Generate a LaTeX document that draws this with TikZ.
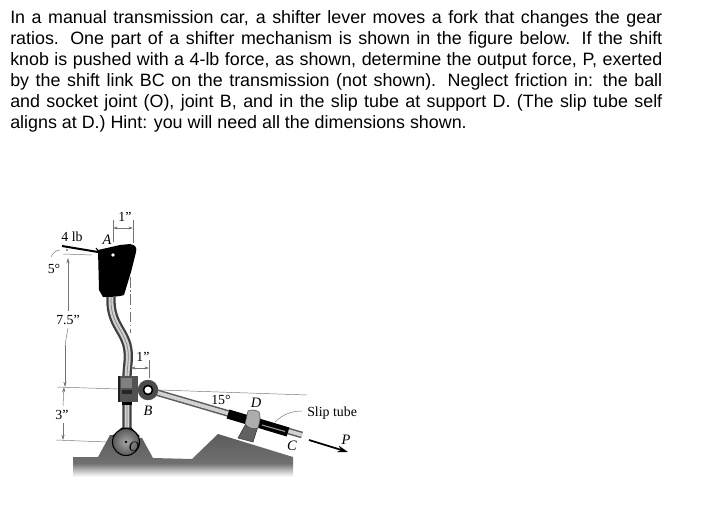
\documentclass[tikz,border=0pt]{standalone}
\usepackage{fontspec}
\setmainfont{Liberation Sans}
\newfontfamily\figfont{Liberation Serif}
\usetikzlibrary{arrows.meta}
\pgfdeclareverticalshading{basefade}{100bp}{color(0bp)=(white); color(25bp)=(white); color(29bp)=(black!12); color(41bp)=(black!56); color(75bp)=(black!64); color(100bp)=(black!64)}
\tikzset{
  lab/.style={font=\figfont\fontsize{10.4pt}{11pt}\selectfont,text=black,inner sep=0pt},
  ilab/.style={lab,font=\figfont\fontsize{10.8pt}{11pt}\selectfont\itshape},
  thin line/.style={draw=black!55,line width=0.35pt},
  uptip/.style={thin line,{Stealth[length=4pt,width=2.4pt]}-},
  downtip/.style={thin line,-{Stealth[length=4pt,width=2.4pt]}},
  dim/.style={thin line,{Stealth[length=3.5pt,width=2.2pt]}-{Stealth[length=3.5pt,width=2.2pt]}}
}
\begin{document}
\begin{tikzpicture}[x=0.75pt,y=-0.75pt]
\useasboundingbox (0,0) rectangle (710,517);
% problem text
\node[anchor=north west,inner sep=0pt,text width=489pt,align=justify,font=\fontsize{13.4pt}{15.75pt}\selectfont] (txt) at (10,10)
{In a manual transmission car, a shifter lever moves a fork that changes the gear\linebreak
ratios. One part of a shifter mechanism is shown in the figure below. If the shift\linebreak
knob is pushed with a 4-lb force, as shown, determine the output force, P, exerted\linebreak
by the shift link BC on the transmission (not shown). Neglect friction in: the ball\linebreak
and socket joint (O), joint B, and in the slip tube at support D. (The slip tube self\linebreak
aligns at D.) Hint: you will need all the dimensions shown.};
% base
\path[shading=basefade]
 (73,457) -- (98,457) -- (110,435) -- (142,438) -- (153,458) -- (192,459) -- (218,434) -- (293,457) -- (293,477) -- (73,477) -- cycle;
% reference lines
\draw[thin line] (57,387) -- (118,389);
\draw[thin line] (56,440) -- (107,442);
\draw[thin line] (160,390) -- (307,395);
\draw[thin line] (63,254) -- (92,255);
\draw[thin line,dash pattern=on 8pt off 2pt on 1pt off 2pt] (130,277) -- (130,333);
% rod
\def\rodpath{(111,297) .. controls (110,322) and (122,328) .. (127,345) .. controls (130,358) and (127,365) .. (127,378) -- (127,428)}
\draw[black!75,line width=7pt] \rodpath;
\draw[black!18,line width=3.6pt] \rodpath;
\draw[black!50,line width=0.5pt] \rodpath;
% ball
\draw[black,line width=0.7pt,fill=black!70] (122,428) -- (131,428) -- (139,436) -- (113,436) -- cycle;
\shade[inner color=black!35,outer color=black!65,draw=black,line width=0.8pt] (126,442) circle (13.5);
\fill[black] (126,442) circle (1.4);
\node[ilab] (o) at (134,447) {O};
% knob
\fill[black] (98,250) -- (120,245) -- (130,244) .. controls (136,245) and (137,248) .. (136,252) -- (131,272) -- (124,295) .. controls (118,297) and (108,297) .. (103,297) -- (99,290) -- cycle;
\fill[white] (113,255) circle (1.8);
% force
\draw[black,line width=1.5pt] (62,246) -- (98,252);
\draw[black,line width=0.8pt] (96,248) -- (99,252);
% 5 degree
\draw[thin line] (51,257) .. controls (53,253) and (56,250) .. (60,250);
\fill[black!80] (67,250) circle (0.8);
% clamp
\fill[black!68] (118,376) rectangle (138,402);
\fill[black!88] (118,376) rectangle (120,402);
\fill[black!50] (121,378) rectangle (132,388);
\fill[black!85] (122,390) rectangle (132,394);
\fill[black] (122,402) rectangle (132,405);
% link
\def\linkpath{(148,390) -- (302,435)}
\draw[black!65,line width=5pt] \linkpath;
\draw[black!18,line width=2.8pt] \linkpath;
% eye
\draw[black!70,line width=4pt,fill=black!70] (148,390) circle (7.5);
\draw[black,line width=1.2pt,fill=white] (148,390) circle (4.5);
% sleeve
\draw[black,line width=7pt] (228,414) -- (288,432);
\draw[black!40,line width=0.8pt] (262,425) -- (285,431.5);
% support
\path[fill=black!62,draw=black!80,line width=0.4pt] (248,420) -- (238,438) -- (253,442) -- (260,420) -- cycle;
\path[fill=black!32,draw=black!70,line width=0.4pt] (248,411) .. controls (251,409) and (256,410) .. (259,412) .. controls (261,416) and (260,422) .. (258,428) .. controls (254,430) and (248,428) .. (245,424) -- cycle;
% dimensions
\draw[thin line] (113,220) -- (113,242);
\draw[thin line] (133,220) -- (133,243);
\draw[dim] (113,228) -- (133,228);
\draw[thin line] (149,360) -- (149,378);
\draw[dim] (131,368) -- (149,368);
\draw[uptip] (68,258) -- (68,311);
\draw[thin line] (68,328) -- (65,345);
\draw[downtip] (65,345) -- (65,387);
\draw[uptip] (64,387) -- (63,406);
\draw[downtip] (63,423) -- (63,440);
% leader
\draw[thin line] (275,422) .. controls (282,415) and (291,411) .. (302,411);
% P arrow
\draw[black,line width=1.3pt,-{Stealth[length=8pt,width=5pt]}] (309,440) -- (348,452);
% labels
\node[lab] (l1) at (125,217) {1\textquotedblright};
\node[lab] (l2) at (72,236.5) {4 lb};
\node[ilab] (la) at (107,240) {A};
\node[lab] (l3) at (54,269) {5°};
\node[lab] (l4) at (68,320) {7.5\textquotedblright};
\node[lab] (l5) at (143,357) {1\textquotedblright};
\node[lab] (l6) at (62,415) {3\textquotedblright};
\node[ilab] (lb) at (148,411) {B};
\node[lab] (l7) at (221,400) {15°};
\node[ilab] (ld) at (256,403) {D};
\node[ilab] (lc) at (292,446) {C};
\node[lab,anchor=west] (l8) at (307,413) {Slip tube};
\node[ilab] (lp) at (346,440) {P};
\end{tikzpicture}
\end{document}
